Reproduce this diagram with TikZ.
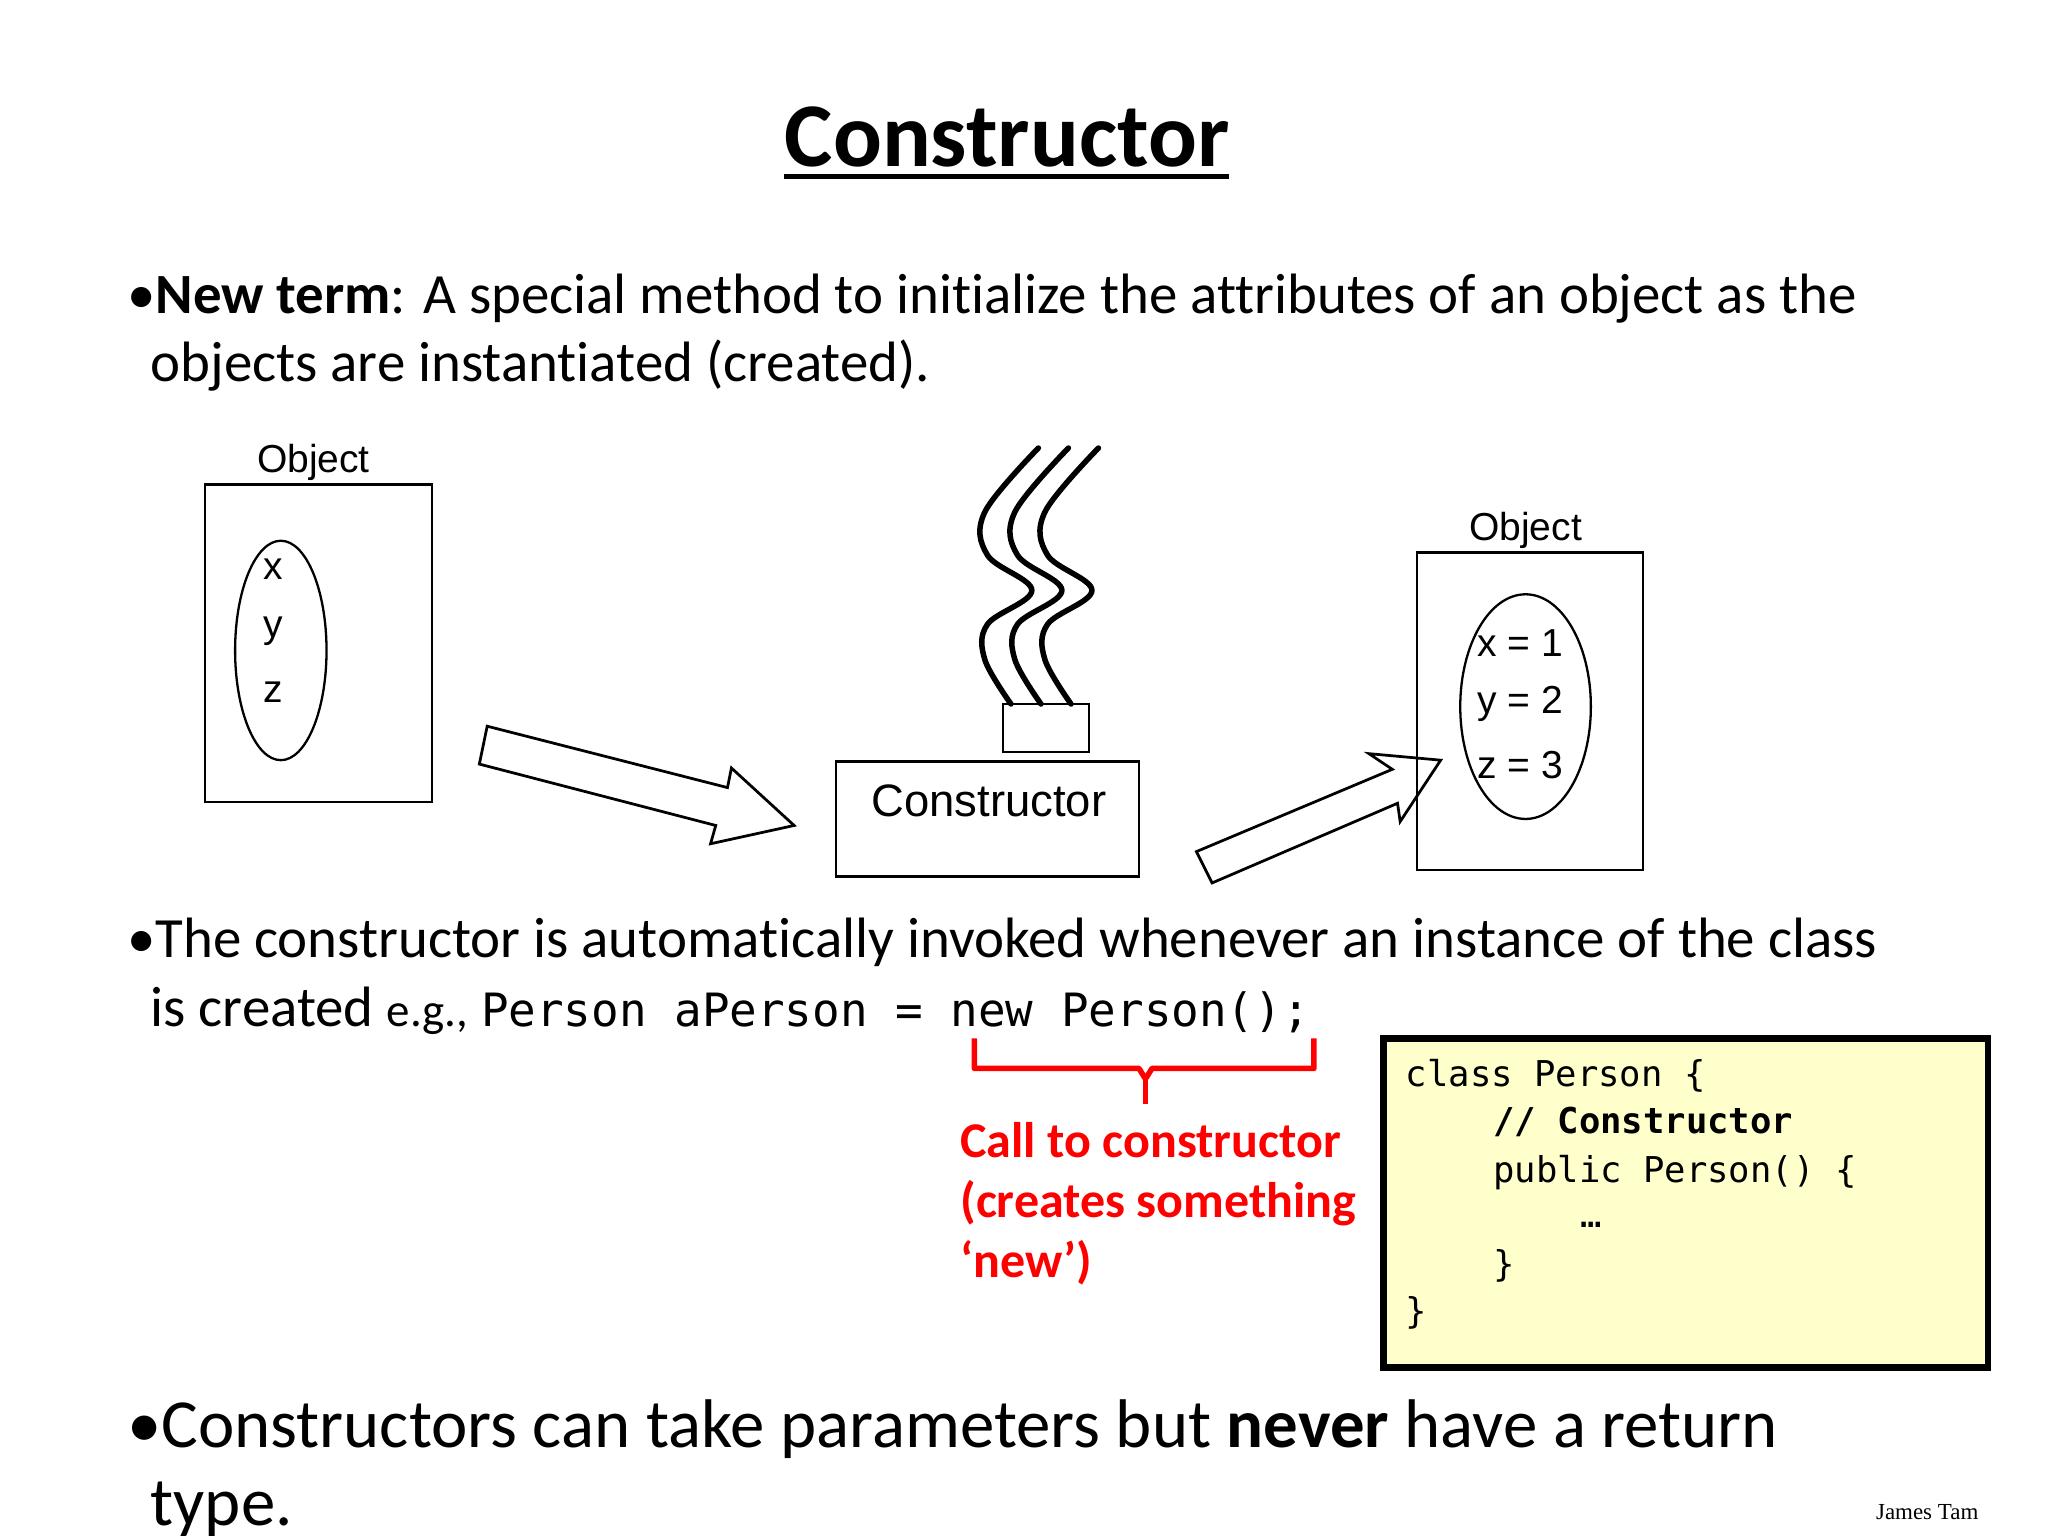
\documentclass[tikz,border=0pt]{standalone}
\usepackage{fontspec}
\usetikzlibrary{shapes.geometric}
\setmainfont{Carlito}[Ligatures=NoCommon]
\newfontfamily\arialf{Liberation Sans}
\newfontfamily\timesf{Liberation Serif}
\setmonofont{DejaVu Sans Mono}
\begin{document}
\begin{tikzpicture}[x=0.02cm,y=-0.02cm,
  body/.style={anchor=base west,inner sep=0,font=\fontsize{24.8}{30}\selectfont},
  lab/.style={inner sep=0,font=\arialf\fontsize{17}{20}\selectfont},
  code/.style={anchor=base west,inner sep=0,font=\ttfamily\fontsize{15.5}{18}\selectfont},
  redt/.style={anchor=base west,inner sep=0,text=red,font=\bfseries\fontsize{21.8}{26}\selectfont},
  bigarrow/.style={draw,line width=1.2pt,fill=white,line join=miter},
  wave/.style={line width=2.4pt,line cap=round}]
\useasboundingbox (0,0) rectangle (1568,1176);
% title
\node[inner sep=0,font=\bfseries\fontsize{39.7}{46}\selectfont] (title) at (771,105) {Constructor};
\draw[line width=2pt] (600,135) -- (941,135);
% bullet 1
\node[body] (b1) at (97,240) {•\textbf{New term}: A special method to initialize the attributes of an object as the};
\node[body] (b1b) at (115,292) {objects are instantiated (created).};
% left object
\node[draw,line width=1pt,minimum width=174*0.02cm,minimum height=243*0.02cm,inner sep=0] (obj1) at (244,492.5) {};
\node[lab] (obj1l) at (240,354) {Object};
\node[draw,ellipse,line width=1pt,minimum width=70*0.02cm,minimum height=168*0.02cm,inner sep=0] (el1) at (215,498) {};
\node[lab] (x1) at (209,436) {x};
\node[lab] (y1) at (209,483) {y};
\node[lab] (z1) at (209,530) {z};
% arrow 1
\draw[bigarrow] (373,556) -- (557,603) -- (560,588) -- (608,632) -- (544,646) -- (548,632) -- (367,585) -- cycle;
% constructor
\node[draw,line width=1pt,minimum width=232*0.02cm,minimum height=88*0.02cm,inner sep=0] (cons) at (756,627) {};
\node[inner sep=0,font=\arialf\fontsize{19.8}{23}\selectfont] (consl) at (757,613) {Constructor};
\node[draw,line width=1pt,minimum width=66*0.02cm,minimum height=37*0.02cm,inner sep=0] (small) at (801,557.5) {};
\foreach \d in {0,23,46}{
  \draw[wave,xshift=\d*0.02cm] plot[smooth,tension=0.6] coordinates {(774,539) (754,505) (756,478) (790,452) (756,425) (754,392) (795,343)};
}
% arrow 2
\draw[bigarrow] (916,652) -- (1066,589) -- (1048,577) -- (1103,582) -- (1072,629) -- (1070,615) -- (928,676) -- cycle;
% right object
\node[draw,line width=1pt,minimum width=173*0.02cm,minimum height=243*0.02cm,inner sep=0] (obj2) at (1171.5,544.5) {};
\node[lab] (obj2l) at (1168,406) {Object};
\node[draw,ellipse,line width=1pt,minimum width=100*0.02cm,minimum height=172*0.02cm,inner sep=0] (el2) at (1168,541) {};
\node[lab] (x2) at (1164,492) {x = 1};
\node[lab] (y2) at (1164,539) {y = 2};
\node[lab] (z2) at (1164,586) {z = 3};
% bullet 2
\node[body] (b2) at (97,733) {•The constructor is automatically invoked whenever an instance of the class};
\node[body] (b2b) at (115,786) {is created {\fontsize{20.5}{24}\selectfont e.g.,} \texttt{\fontsize{20}{24}\selectfont Person aPerson = new Person();}};
% brace
\draw[red,line width=2.4pt,line join=round] (746,795) -- (746,818) -- (872,818) -- (877,826) -- (882,818) -- (1006,818) -- (1006,795);
\draw[red,line width=2.4pt] (877,826) -- (877,845);
\node[redt] (r1) at (735,886) {Call to constructor};
\node[redt] (r2) at (735,932) {(creates something};
\node[redt] (r3) at (735,978) {‘new’)};
% code box
\node[draw,line width=3pt,fill={rgb,255:red,255;green,255;blue,204},minimum width=463*0.02cm,minimum height=252*0.02cm,inner sep=0] (codebox) at (1290.5,921) {};
\node[code] (c1) at (1076,832) {class Person \{};
\node[code] (c2) at (1143,868) {\bfseries // Constructor};
\node[code] (c3) at (1143,905) {public Person() \{};
\node[code] (c4) at (1210,940) {…};
\node[code] (c5) at (1143,977) {\}};
\node[code] (c6) at (1076,1013) {\}};
% bullet 3
\node[body,font=\fontsize{30}{36}\selectfont] (b3) at (97,1108) {•Constructors can take parameters but \textbf{never} have a return};
\node[body,font=\fontsize{30}{36}\selectfont] (b3b) at (115,1168) {type.};
\node[anchor=base east,inner sep=0,font=\timesf\fontsize{10}{12}\selectfont] (jt) at (1515,1163) {James Tam};
\end{tikzpicture}
\end{document}
